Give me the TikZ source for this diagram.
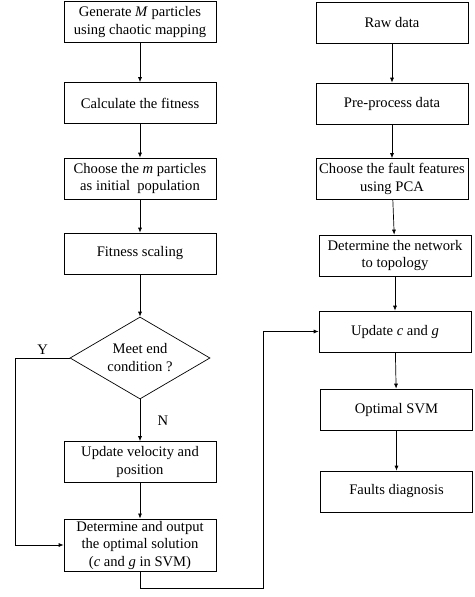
\documentclass[tikz,border=0pt]{standalone}
\usepackage{fontspec}
\setmainfont{Liberation Serif}
\usetikzlibrary{shapes.geometric,arrows.meta}
\begin{document}
\begin{tikzpicture}[x=1pt,y=1pt,
		>={Latex[length=5pt,width=4pt]},
		box/.style={rectangle,draw,line width=0.7pt,minimum width=152pt,minimum height=41pt,
			align=center,inner sep=2pt,font=\fontsize{14.6}{17.5}\selectfont},
		cond/.style={diamond,draw,line width=0.7pt,minimum width=140pt,minimum height=82pt,
			aspect=1.7,inner sep=0pt,align=center,font=\fontsize{14.6}{18}\selectfont},
		lbl/.style={font=\fontsize{14.6}{17}\selectfont},
		node distance=78pt
		]
		\useasboundingbox (0,0) rectangle (474,-597);
		% left column
		\node[box](G1) at (140,-22){Generate \textit{M} particles\\using chaotic mapping};
		\node[box, below of = G1, yshift = -3pt](G2){Calculate the fitness};
		\node[box, below of = G2, yshift = 2.5pt](G3){Choose the \textit{m} particles\\as initial\ \ population};
		\node[box, below of = G3, yshift = 3pt](G4){Fitness scaling};
		\node[cond, below of = G4, yshift = -26.5pt](G5){Meet end\\condition ?};
		\node[box, below of = G5, yshift = -26pt](G6){Update velocity and\\position};
		\node[box, below of = G6, yshift = -5pt](G7){Determine and output\\the optimal solution\\(\textit{c} and \textit{g} in SVM)};
		
		% right column
		\node[box](R1) at (392,-23){Raw data};
		\node[box, below of = R1, yshift = -2.5pt](R2){Pre-process data};
		\node[box, below of = R2, yshift = 2.5pt](R3){Choose the fault features\\using PCA};
		\node[box, below of = R3, yshift = 1.5pt, xshift = 3pt](R4){Determine the network\\to topology};
		\node[box, below of = R4, yshift = 2pt](R5){Update \textit{c} and \textit{g}};
		\node[box, below of = R5, xshift = 1.5pt](R6){Optimal SVM};
		\node[box, below of = R6, yshift = -4pt](R7){Faults diagnosis};
		
		\draw[line width=0.7pt,->] (G1) -- (G2);
		\draw[line width=0.7pt,->] (G2) -- (G3);
		\draw[line width=0.7pt,->] (G3) -- (G4);
		\draw[line width=0.7pt,->] (G4) -- (G5);
		\draw[line width=0.7pt,->] (G5) -- (G6) node [midway, right, lbl, xshift = 14pt]{N};
		\draw[line width=0.7pt,->] (G6) -- (G7);
		\draw[line width=0.7pt,->] (G5.west) -- ++(-54,0) node [midway, above, lbl]{Y}
			|- (G7.west);
		\draw[line width=0.7pt,->] (G7.south) -- ++(0,-17) -- ++(123,0) |- (R5.west);
		
		\draw[line width=0.7pt,->] (R1) -- (R2);
		\draw[line width=0.7pt,->] (R2) -- (R3);
		\draw[line width=0.7pt,->] (R3) -- (R4);
		\draw[line width=0.7pt,->] (R4) -- (R5);
		\draw[line width=0.7pt,->] (R5) -- (R6);
		\draw[line width=0.7pt,->] (R6) -- (R7);
	\end{tikzpicture}
\end{document}
